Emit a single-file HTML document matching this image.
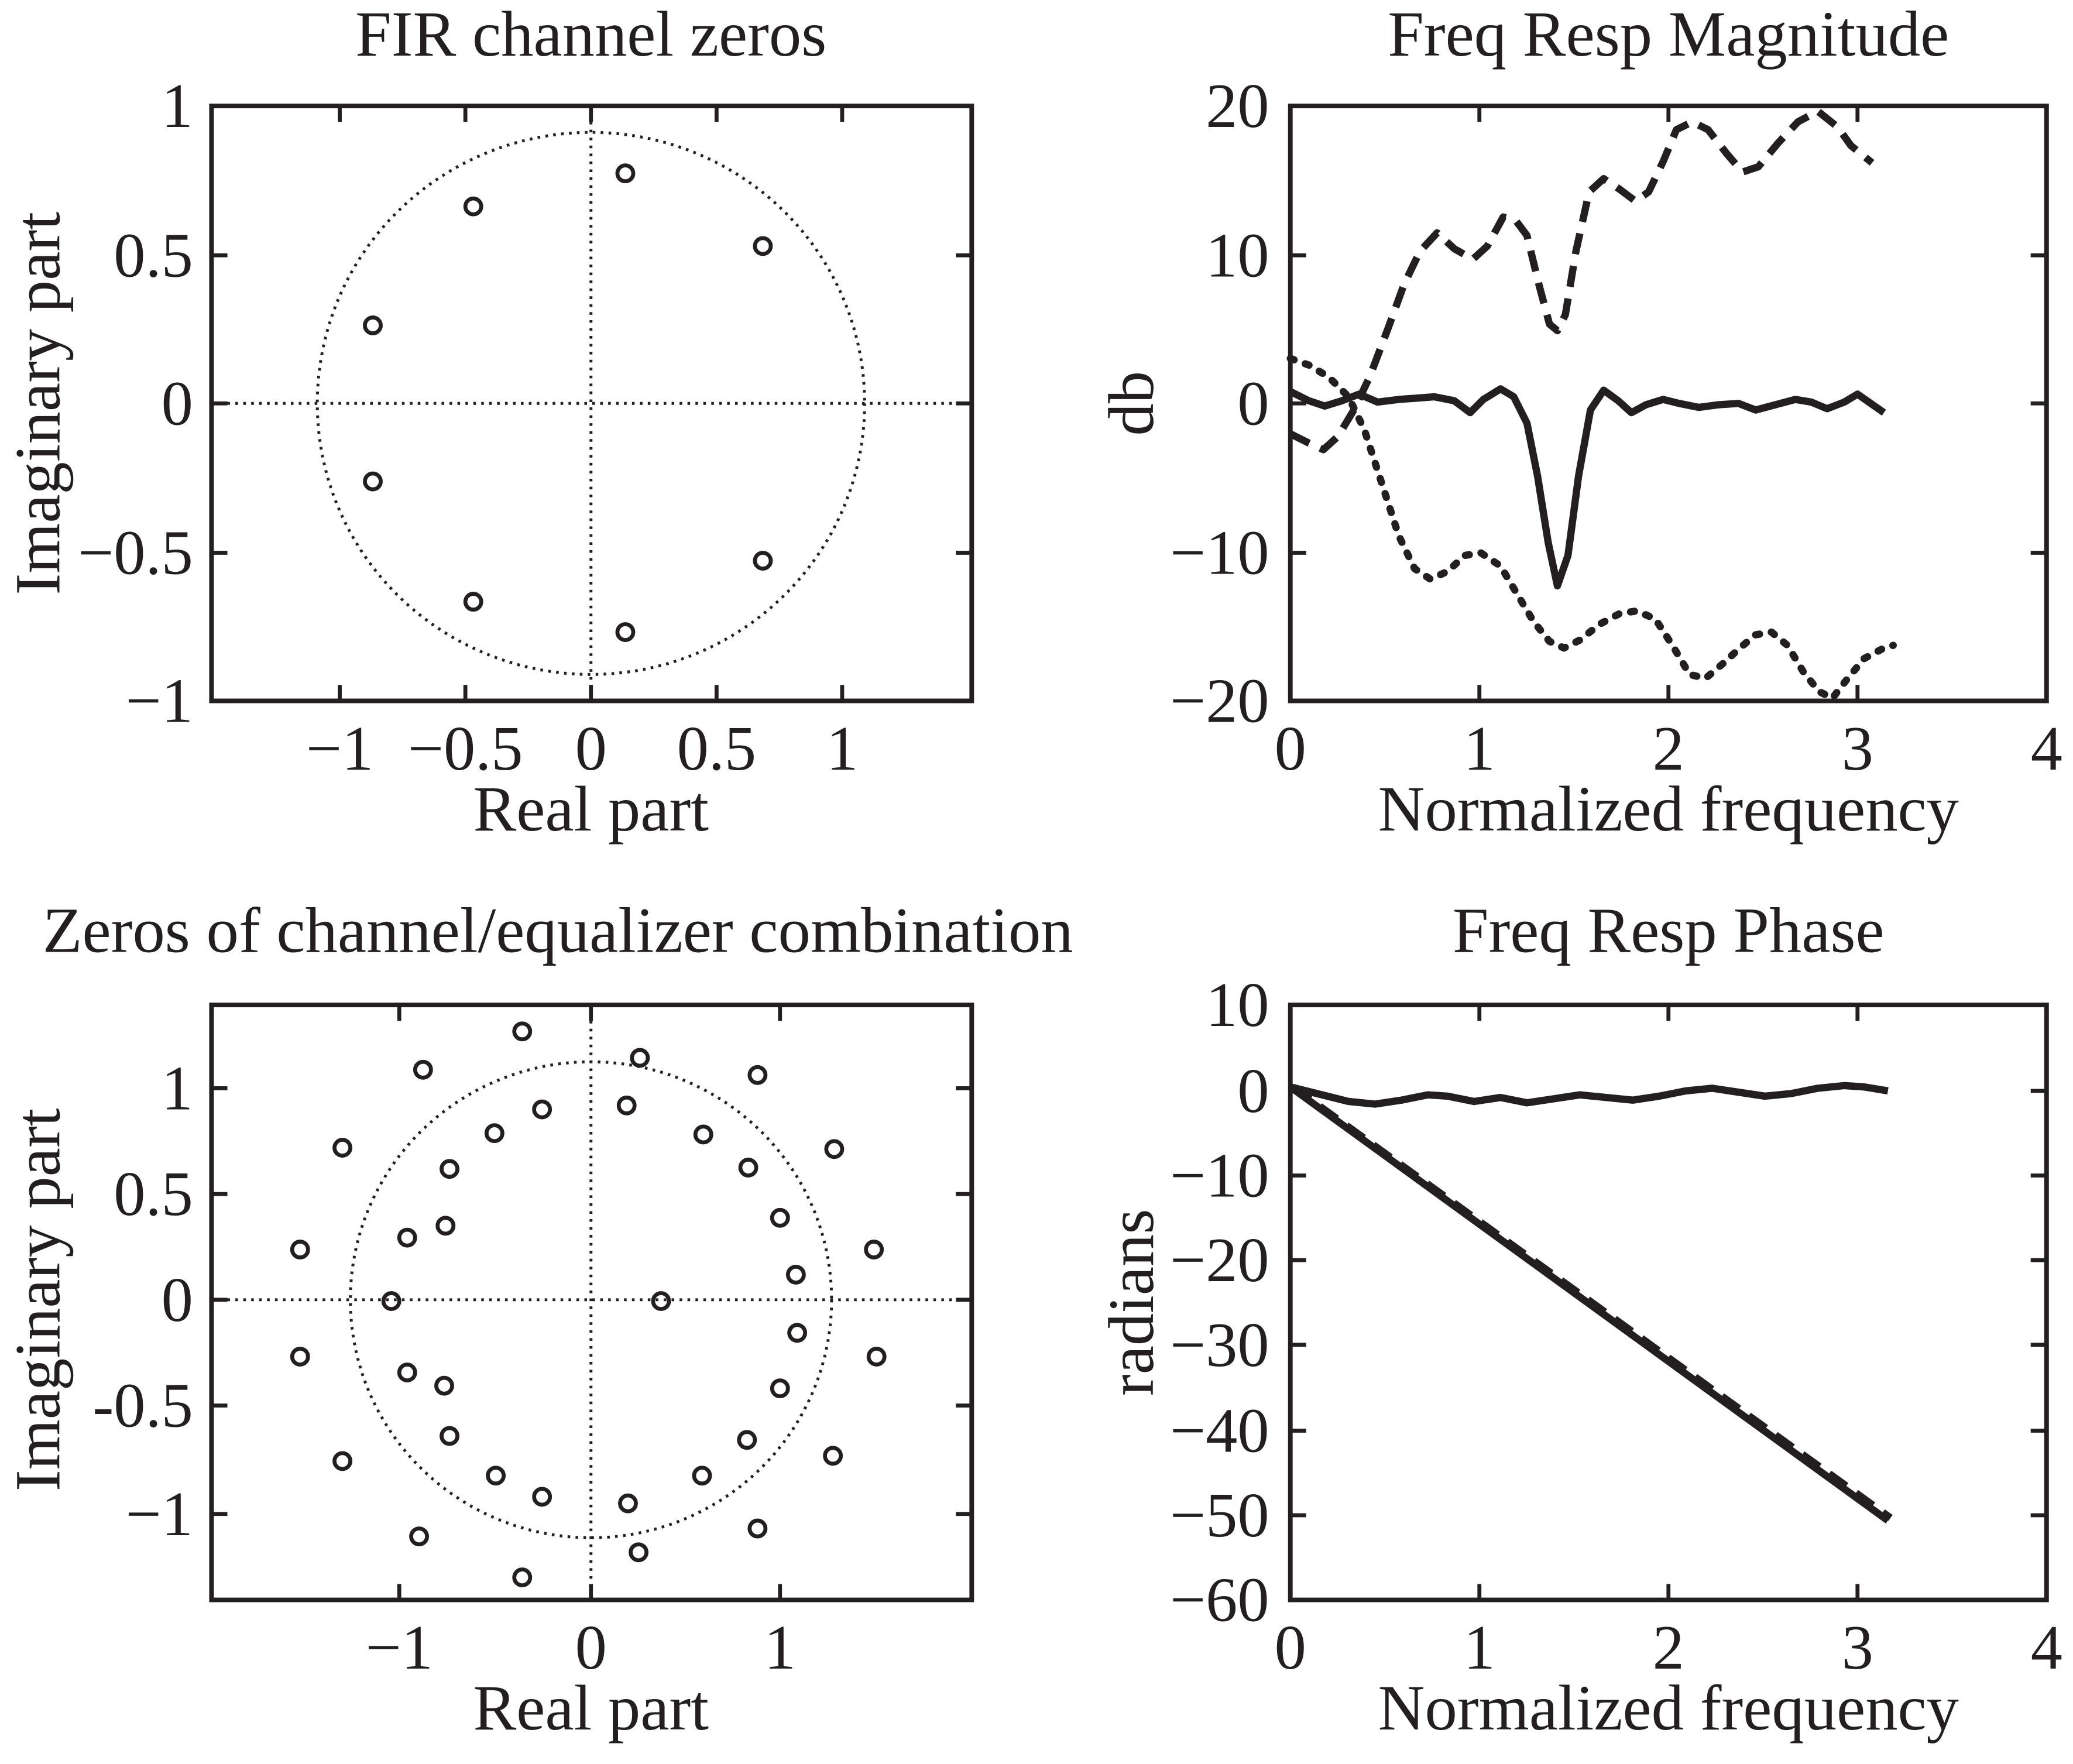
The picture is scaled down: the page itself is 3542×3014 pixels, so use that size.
<!DOCTYPE html>
<html><head><meta charset="utf-8"><style>
html,body{margin:0;padding:0;background:#fff;}
svg{display:block;}
text{font-family:"Liberation Serif",serif;fill:#231f20;}
</style></head><body>
<svg width="3542" height="3014" viewBox="0 0 1568 1334" xmlns="http://www.w3.org/2000/svg">
<rect width="1568" height="1334" fill="#fff"/>
<g stroke="#231f20" fill="none">
<!-- Top-left -->
<rect x="160" y="80" width="575" height="450" stroke-width="3.5"/>
<g stroke-width="3">
<path d="M257 80v12M352 80v12M447 80v12M542 80v12M637 80v12M257 530v-12M352 530v-12M447 530v-12M542 530v-12M637 530v-12"/>
<path d="M160 80h12M160 193h12M160 305h12M160 418h12M160 530h12M735 80h-12M735 193h-12M735 305h-12M735 418h-12M735 530h-12"/>
</g>
<g stroke-width="2.2" stroke-dasharray="2,4">
<ellipse cx="447" cy="305" rx="207" ry="205"/>
<path d="M160 305H735M447 80V530"/>
</g>
<g stroke-width="3">
<circle cx="473" cy="131" r="6"/><circle cx="358" cy="156" r="6"/><circle cx="577" cy="186" r="6"/><circle cx="282" cy="246" r="6"/>
<circle cx="282" cy="364" r="6"/><circle cx="577" cy="424" r="6"/><circle cx="358" cy="455" r="6"/><circle cx="473" cy="478" r="6"/>
</g>
<!-- Top-right -->
<rect x="976" y="80" width="572" height="450" stroke-width="3.5"/>
<g stroke-width="3">
<path d="M1119 80v12M1262 80v12M1405 80v12M1119 530v-12M1262 530v-12M1405 530v-12"/>
<path d="M976 193h12M976 305h12M976 418h12M1548 193h-12M1548 305h-12M1548 418h-12"/>
</g>
<polyline stroke-width="5.5" stroke-linejoin="round" points="976,296 990,303 1002,307 1015,303 1028,298 1042,304 1058,302 1072,301 1085,300 1100,303 1112,312 1122,302 1135,294 1145,300 1155,320 1163,360 1171,410 1178,443 1186,420 1194,360 1203,310 1213,295 1224,303 1234,312 1245,306 1258,302 1270,305 1285,308 1300,306 1315,305 1328,310 1343,306 1358,302 1370,304 1382,309 1395,304 1405,298 1415,305 1425,312"/>
<polyline stroke-width="5.5" stroke-dasharray="16,9" stroke-linejoin="round" points="976,328 990,335 1001,340 1012,330 1024,310 1036,285 1050,248 1062,215 1074,190 1087,176 1100,188 1114,196 1125,186 1137,164 1146,166 1155,178 1164,215 1172,245 1178,250 1184,238 1192,190 1202,145 1213,135 1225,143 1237,152 1247,145 1258,122 1268,98 1280,92 1292,98 1306,116 1318,130 1330,126 1345,108 1360,92 1375,84 1390,96 1400,110 1416,123"/>
<polyline stroke-width="5.5" stroke-dasharray="3,9" stroke-linecap="round" stroke-linejoin="round" points="976,271 990,276 1005,285 1020,300 1032,325 1045,365 1058,405 1070,430 1082,438 1095,432 1108,420 1120,418 1135,428 1148,450 1160,470 1172,485 1183,490 1195,484 1210,472 1225,464 1238,462 1252,468 1265,488 1278,510 1290,513 1303,502 1316,490 1328,480 1340,478 1352,488 1364,508 1376,523 1386,528 1396,515 1410,498 1425,490 1432,488"/>
<!-- Bottom-left -->
<rect x="160" y="760" width="575" height="450" stroke-width="3.5"/>
<g stroke-width="3">
<path d="M302 760v12M447 760v12M590 760v12M302 1210v-12M447 1210v-12M590 1210v-12"/>
<path d="M160 823h12M160 903h12M160 983h12M160 1063h12M160 1145h12M735 823h-12M735 903h-12M735 983h-12M735 1063h-12M735 1145h-12"/>
</g>
<g stroke-width="2.2" stroke-dasharray="2,4">
<ellipse cx="447" cy="983" rx="182" ry="180"/>
<path d="M160 983H735M447 760V1210"/>
</g>
<g stroke-width="3">
<circle cx="395" cy="780" r="6"/><circle cx="484" cy="800" r="6"/><circle cx="320" cy="809" r="6"/><circle cx="573" cy="813" r="6"/>
<circle cx="474" cy="836" r="6"/><circle cx="410" cy="839" r="6"/><circle cx="532" cy="858" r="6"/><circle cx="374" cy="857" r="6"/>
<circle cx="259" cy="868" r="6"/><circle cx="631" cy="869" r="6"/><circle cx="340" cy="884" r="6"/><circle cx="566" cy="883" r="6"/>
<circle cx="337" cy="927" r="6"/><circle cx="590" cy="921" r="6"/><circle cx="308" cy="936" r="6"/><circle cx="227" cy="945" r="6"/>
<circle cx="661" cy="945" r="6"/><circle cx="602" cy="964" r="6"/><circle cx="296" cy="984" r="6"/><circle cx="500" cy="984" r="6"/>
<circle cx="603" cy="1008" r="6"/><circle cx="308" cy="1038" r="6"/><circle cx="227" cy="1026" r="6"/><circle cx="663" cy="1026" r="6"/>
<circle cx="336" cy="1048" r="6"/><circle cx="590" cy="1050" r="6"/><circle cx="340" cy="1086" r="6"/><circle cx="565" cy="1089" r="6"/>
<circle cx="630" cy="1101" r="6"/><circle cx="259" cy="1105" r="6"/><circle cx="375" cy="1116" r="6"/><circle cx="531" cy="1116" r="6"/>
<circle cx="410" cy="1132" r="6"/><circle cx="475" cy="1137" r="6"/><circle cx="317" cy="1162" r="6"/><circle cx="573" cy="1156" r="6"/>
<circle cx="483" cy="1174" r="6"/><circle cx="395" cy="1193" r="6"/>
</g>
<!-- Bottom-right -->
<rect x="976" y="760" width="572" height="450" stroke-width="3.5"/>
<g stroke-width="3">
<path d="M1119 760v12M1262 760v12M1405 760v12M1119 1210v-12M1262 1210v-12M1405 1210v-12"/>
<path d="M976 825h12M976 889h12M976 953h12M976 1017h12M976 1082h12M976 1146h12M1548 825h-12M1548 889h-12M1548 953h-12M1548 1017h-12M1548 1082h-12M1548 1146h-12"/>
</g>
<polyline stroke-width="5.5" stroke-linejoin="round" points="976,822 1000,828 1020,833 1040,835 1060,832 1080,828 1095,829 1115,833 1135,830 1155,834 1175,831 1195,828 1215,830 1235,832 1255,829 1275,825 1295,823 1315,826 1335,829 1355,827 1375,823 1395,821 1410,822 1428,825"/>
<path d="M978 822L1430 1148" stroke-width="5.5" stroke-dasharray="16,9"/>
<path d="M976 822L1428 1150" stroke-width="5.5"/>
</g>
<!-- Text -->
<g font-size="49">
<text x="447" y="42" text-anchor="middle">FIR channel zeros</text>
<text x="1262" y="42" text-anchor="middle">Freq Resp Magnitude</text>
<text x="422" y="720" text-anchor="middle">Zeros of channel/equalizer combination</text>
<text x="1262" y="720" text-anchor="middle">Freq Resp Phase</text>
<text x="447" y="628" text-anchor="middle">Real part</text>
<text x="447" y="1308" text-anchor="middle">Real part</text>
<text x="1262" y="628" text-anchor="middle">Normalized frequency</text>
<text x="1262" y="1308" text-anchor="middle">Normalized frequency</text>
<text transform="translate(45,305) rotate(-90)" text-anchor="middle">Imaginary part</text>
<text transform="translate(45,983) rotate(-90)" text-anchor="middle">Imaginary part</text>
<text transform="translate(872,305) rotate(-90)" text-anchor="middle">db</text>
<text transform="translate(872,985) rotate(-90)" text-anchor="middle">radians</text>
</g>
<g font-size="48" text-anchor="end">
<text x="146" y="96">1</text><text x="146" y="209">0.5</text><text x="146" y="321">0</text><text x="146" y="434">−0.5</text><text x="146" y="546">−1</text>
<text x="146" y="839">1</text><text x="146" y="919">0.5</text><text x="146" y="999">0</text><text x="146" y="1079">-0.5</text><text x="146" y="1161">−1</text>
<text x="960" y="96">20</text><text x="960" y="209">10</text><text x="960" y="321">0</text><text x="960" y="434">−10</text><text x="960" y="546">−20</text>
<text x="960" y="776">10</text><text x="960" y="841">0</text><text x="960" y="905">−10</text><text x="960" y="969">−20</text><text x="960" y="1033">−30</text><text x="960" y="1098">−40</text><text x="960" y="1162">−50</text><text x="960" y="1226">−60</text>
</g>
<g font-size="48" text-anchor="middle">
<text x="257" y="582">−1</text><text x="352" y="582">−0.5</text><text x="447" y="582">0</text><text x="542" y="582">0.5</text><text x="637" y="582">1</text>
<text x="302" y="1262">−1</text><text x="447" y="1262">0</text><text x="590" y="1262">1</text>
<text x="976" y="582">0</text><text x="1119" y="582">1</text><text x="1262" y="582">2</text><text x="1405" y="582">3</text><text x="1548" y="582">4</text>
<text x="976" y="1262">0</text><text x="1119" y="1262">1</text><text x="1262" y="1262">2</text><text x="1405" y="1262">3</text><text x="1548" y="1262">4</text>
</g>
</svg>
</body></html>
